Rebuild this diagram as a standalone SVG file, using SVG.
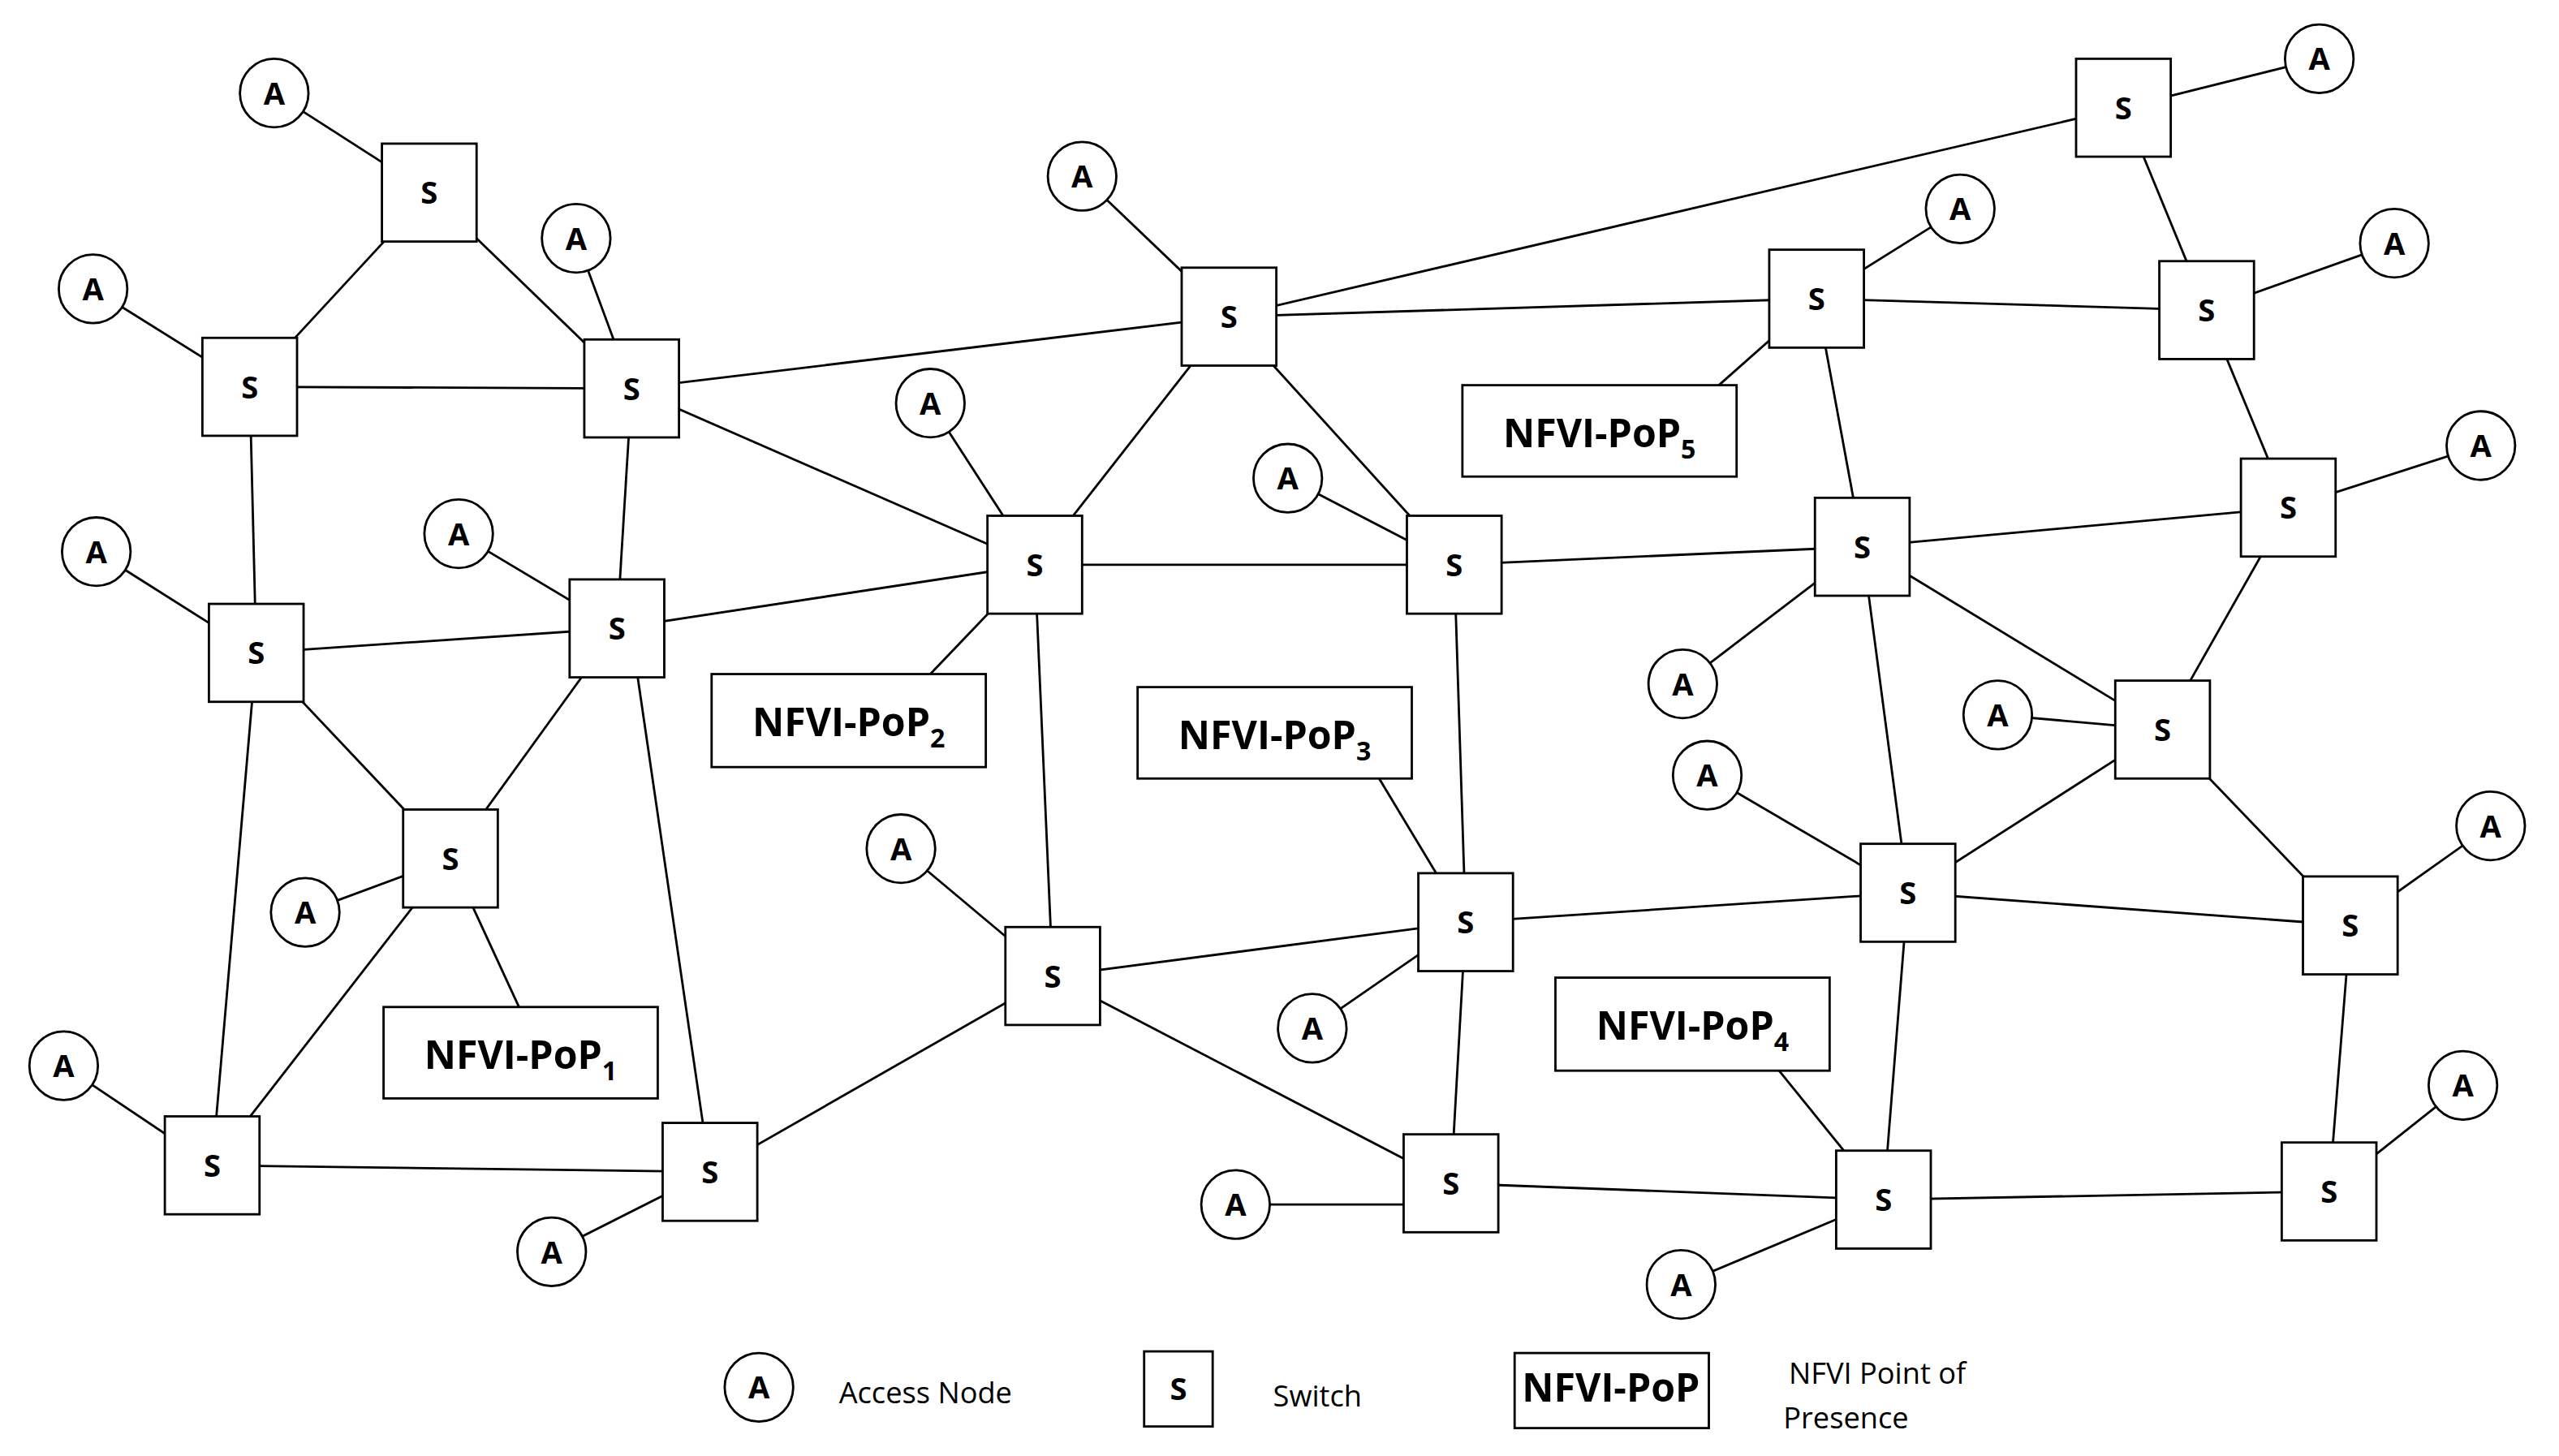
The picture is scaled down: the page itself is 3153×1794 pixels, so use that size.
<svg xmlns="http://www.w3.org/2000/svg" width="3153" height="1794" viewBox="0 0 3153 1794">
<style>
.e line{stroke:#000;stroke-width:1.4}
.s rect,.a circle,.p rect{fill:#fff;stroke:#000;stroke-width:1.4}
.s text,.a text{font-family:"Open Sans","Liberation Sans",sans-serif;font-weight:bold;font-size:19px;text-anchor:middle}
.p text{font-family:"Open Sans","Liberation Sans",sans-serif;font-weight:bold;font-size:24px;text-anchor:middle}
.l{font-family:"Open Sans","Liberation Sans",sans-serif;font-size:18px}
</style>
<rect width="3153" height="1794" fill="#fff"/>
<g transform="scale(2.011)">
<g id="connectors" class="e">
<line x1="263" y1="118" x2="153" y2="237"/><line x1="263" y1="118" x2="387" y2="238"/><line x1="153" y1="237" x2="387" y2="238"/>
<line x1="153" y1="237" x2="157" y2="400"/><line x1="387" y1="238" x2="378" y2="385"/><line x1="387" y1="238" x2="753" y2="194"/>
<line x1="387" y1="238" x2="634" y2="346"/><line x1="157" y1="400" x2="378" y2="385"/><line x1="157" y1="400" x2="276" y2="526"/>
<line x1="157" y1="400" x2="130" y2="714"/><line x1="378" y1="385" x2="276" y2="526"/><line x1="378" y1="385" x2="634" y2="346"/>
<line x1="390" y1="410" x2="435" y2="718"/><line x1="276" y1="526" x2="130" y2="714"/><line x1="130" y1="714" x2="435" y2="718"/>
<line x1="435" y1="718" x2="645" y2="598"/><line x1="753" y1="194" x2="634" y2="346"/><line x1="753" y1="194" x2="891" y2="346"/>
<line x1="753" y1="194" x2="1301" y2="66"/><line x1="753" y1="194" x2="1113" y2="183"/><line x1="634" y1="346" x2="891" y2="346"/>
<line x1="634" y1="346" x2="645" y2="598"/><line x1="891" y1="346" x2="898" y2="565"/><line x1="891" y1="346" x2="1141" y2="335"/>
<line x1="645" y1="598" x2="898" y2="565"/><line x1="645" y1="598" x2="889" y2="725"/><line x1="898" y1="565" x2="889" y2="725"/>
<line x1="889" y1="725" x2="1154" y2="735"/><line x1="1113" y1="183" x2="1352" y2="190"/><line x1="1113" y1="183" x2="1141" y2="335"/>
<line x1="1352" y1="190" x2="1301" y2="66"/><line x1="1352" y1="190" x2="1402" y2="311"/><line x1="1141" y1="335" x2="1402" y2="311"/>
<line x1="1141" y1="335" x2="1325" y2="447"/><line x1="1141" y1="335" x2="1169" y2="547"/><line x1="1402" y1="311" x2="1325" y2="447"/>
<line x1="1325" y1="447" x2="1169" y2="547"/><line x1="1325" y1="447" x2="1440" y2="567"/><line x1="1169" y1="547" x2="898" y2="565"/>
<line x1="1169" y1="547" x2="1440" y2="567"/><line x1="1169" y1="547" x2="1154" y2="735"/><line x1="1440" y1="567" x2="1427" y2="730"/>
<line x1="1154" y1="735" x2="1427" y2="730"/>
<line x1="168" y1="57" x2="263" y2="118"/><line x1="57" y1="177" x2="153" y2="237"/><line x1="353" y1="146" x2="387" y2="238"/>
<line x1="59" y1="338" x2="157" y2="400"/><line x1="281" y1="327" x2="378" y2="385"/><line x1="187" y1="559" x2="276" y2="526"/>
<line x1="39" y1="653" x2="130" y2="714"/><line x1="338" y1="767" x2="435" y2="718"/><line x1="663" y1="108" x2="753" y2="194"/>
<line x1="570" y1="247" x2="634" y2="346"/><line x1="789" y1="293" x2="891" y2="346"/><line x1="552" y1="520" x2="645" y2="598"/>
<line x1="804" y1="630" x2="898" y2="565"/><line x1="757" y1="738" x2="889" y2="738"/><line x1="1201" y1="128" x2="1113" y2="183"/>
<line x1="1421" y1="36" x2="1301" y2="66"/><line x1="1467" y1="149" x2="1352" y2="190"/><line x1="1520" y1="273" x2="1402" y2="311"/>
<line x1="1031" y1="419" x2="1141" y2="335"/><line x1="1224" y1="438" x2="1325" y2="447"/><line x1="1046" y1="475" x2="1169" y2="547"/>
<line x1="1526" y1="506" x2="1440" y2="567"/><line x1="1509" y1="665" x2="1427" y2="730"/><line x1="1030" y1="787" x2="1154" y2="735"/>
<line x1="1052" y1="237" x2="1113" y2="183"/><line x1="570" y1="413" x2="634" y2="346"/><line x1="845" y1="477" x2="898" y2="565"/>
<line x1="318" y1="617" x2="276" y2="526"/><line x1="1090" y1="656" x2="1154" y2="735"/>
</g>
<g class="s">
<g id="S1"><rect x="234" y="88" width="58" height="60"/><text x="263" y="125">S</text></g>
<g id="S2"><rect x="124" y="207" width="58" height="60"/><text x="153" y="244">S</text></g>
<g id="S3"><rect x="358" y="208" width="58" height="60"/><text x="387" y="245">S</text></g>
<g id="S4"><rect x="128" y="370" width="58" height="60"/><text x="157" y="407">S</text></g>
<g id="S5"><rect x="349" y="355" width="58" height="60"/><text x="378" y="392">S</text></g>
<g id="S6"><rect x="247" y="496" width="58" height="60"/><text x="276" y="533">S</text></g>
<g id="S7"><rect x="101" y="684" width="58" height="60"/><text x="130" y="721">S</text></g>
<g id="S8"><rect x="406" y="688" width="58" height="60"/><text x="435" y="725">S</text></g>
<g id="S9"><rect x="724" y="164" width="58" height="60"/><text x="753" y="201">S</text></g>
<g id="S10"><rect x="605" y="316" width="58" height="60"/><text x="634" y="353">S</text></g>
<g id="S11"><rect x="862" y="316" width="58" height="60"/><text x="891" y="353">S</text></g>
<g id="S12"><rect x="616" y="568" width="58" height="60"/><text x="645" y="605">S</text></g>
<g id="S13"><rect x="869" y="535" width="58" height="60"/><text x="898" y="572">S</text></g>
<g id="S14"><rect x="860" y="695" width="58" height="60"/><text x="889" y="732">S</text></g>
<g id="S15"><rect x="1084" y="153" width="58" height="60"/><text x="1113" y="190">S</text></g>
<g id="S16"><rect x="1323" y="160" width="58" height="60"/><text x="1352" y="197">S</text></g>
<g id="S17"><rect x="1272" y="36" width="58" height="60"/><text x="1301" y="73">S</text></g>
<g id="S18"><rect x="1112" y="305" width="58" height="60"/><text x="1141" y="342">S</text></g>
<g id="S19"><rect x="1373" y="281" width="58" height="60"/><text x="1402" y="318">S</text></g>
<g id="S20"><rect x="1296" y="417" width="58" height="60"/><text x="1325" y="454">S</text></g>
<g id="S21"><rect x="1140" y="517" width="58" height="60"/><text x="1169" y="554">S</text></g>
<g id="S22"><rect x="1411" y="537" width="58" height="60"/><text x="1440" y="574">S</text></g>
<g id="S23"><rect x="1125" y="705" width="58" height="60"/><text x="1154" y="742">S</text></g>
<g id="S24"><rect x="1398" y="700" width="58" height="60"/><text x="1427" y="737">S</text></g>
</g>
<g class="a">
<g id="A1"><circle cx="168" cy="57" r="21"/><text x="168" y="64">A</text></g>
<g id="A2"><circle cx="57" cy="177" r="21"/><text x="57" y="184">A</text></g>
<g id="A3"><circle cx="353" cy="146" r="21"/><text x="353" y="153">A</text></g>
<g id="A4"><circle cx="59" cy="338" r="21"/><text x="59" y="345">A</text></g>
<g id="A5"><circle cx="281" cy="327" r="21"/><text x="281" y="334">A</text></g>
<g id="A6"><circle cx="187" cy="559" r="21"/><text x="187" y="566">A</text></g>
<g id="A7"><circle cx="39" cy="653" r="21"/><text x="39" y="660">A</text></g>
<g id="A8"><circle cx="338" cy="767" r="21"/><text x="338" y="774">A</text></g>
<g id="A9"><circle cx="663" cy="108" r="21"/><text x="663" y="115">A</text></g>
<g id="A10"><circle cx="570" cy="247" r="21"/><text x="570" y="254">A</text></g>
<g id="A11"><circle cx="789" cy="293" r="21"/><text x="789" y="300">A</text></g>
<g id="A12"><circle cx="552" cy="520" r="21"/><text x="552" y="527">A</text></g>
<g id="A13"><circle cx="804" cy="630" r="21"/><text x="804" y="637">A</text></g>
<g id="A14"><circle cx="757" cy="738" r="21"/><text x="757" y="745">A</text></g>
<g id="A15"><circle cx="1201" cy="128" r="21"/><text x="1201" y="135">A</text></g>
<g id="A16"><circle cx="1421" cy="36" r="21"/><text x="1421" y="43">A</text></g>
<g id="A17"><circle cx="1467" cy="149" r="21"/><text x="1467" y="156">A</text></g>
<g id="A18"><circle cx="1520" cy="273" r="21"/><text x="1520" y="280">A</text></g>
<g id="A19"><circle cx="1031" cy="419" r="21"/><text x="1031" y="426">A</text></g>
<g id="A20"><circle cx="1224" cy="438" r="21"/><text x="1224" y="445">A</text></g>
<g id="A21"><circle cx="1046" cy="475" r="21"/><text x="1046" y="482">A</text></g>
<g id="A22"><circle cx="1526" cy="506" r="21"/><text x="1526" y="513">A</text></g>
<g id="A23"><circle cx="1509" cy="665" r="21"/><text x="1509" y="672">A</text></g>
<g id="A24"><circle cx="1030" cy="787" r="21"/><text x="1030" y="794">A</text></g>
</g>
<g class="p">
<g id="PoP1"><rect x="235" y="617" width="168" height="56"/><text x="319" y="655">NFVI-PoP<tspan font-size="16" dy="7">1</tspan></text></g>
<g id="PoP2"><rect x="436" y="413" width="168" height="57"/><text x="520" y="451">NFVI-PoP<tspan font-size="16" dy="7">2</tspan></text></g>
<g id="PoP3"><rect x="697" y="421" width="168" height="56"/><text x="781" y="459">NFVI-PoP<tspan font-size="16" dy="7">3</tspan></text></g>
<g id="PoP4"><rect x="953" y="599" width="168" height="57"/><text x="1037" y="637">NFVI-PoP<tspan font-size="16" dy="7">4</tspan></text></g>
<g id="PoP5"><rect x="896" y="236" width="168" height="56"/><text x="980" y="274">NFVI-PoP<tspan font-size="16" dy="7">5</tspan></text></g>
</g>
<g id="legend">
<g class="a"><circle cx="465" cy="850" r="21"/><text x="465" y="857">A</text></g>
<text class="l" x="514" y="860">Access Node</text>
<g class="s"><rect x="701" y="828" width="42" height="46"/><text x="722" y="858">S</text></g>
<text class="l" x="780" y="862">Switch</text>
<g class="p"><rect x="928" y="829" width="119" height="46"/><text x="987" y="859" font-size="18">NFVI-PoP</text></g>
<text class="l" x="1096" y="848">NFVI Point of</text>
<text class="l" x="1131" y="875" text-anchor="middle">Presence</text>
</g>
</g>
</svg>
